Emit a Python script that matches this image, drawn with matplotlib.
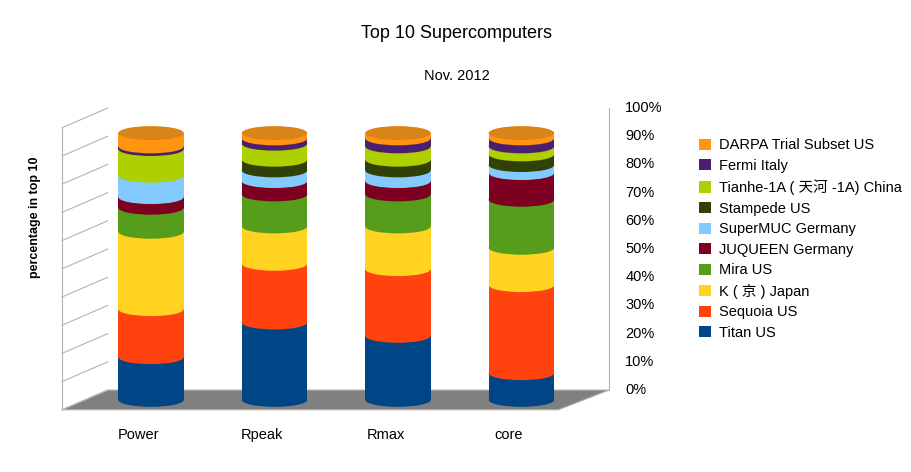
import matplotlib
matplotlib.use("Agg")
import matplotlib.pyplot as plt
from matplotlib.patches import Ellipse, Rectangle, Polygon, Patch
import matplotlib.colors as mc

plt.rcParams['font.family'] = ['Liberation Sans', 'Noto Sans CJK SC']

categories = ["Power", "Rpeak", "Rmax", "core"]
series = ["Titan US", "Sequoia US", "K ( 京 ) Japan", "Mira US", "JUQUEEN Germany",
          "SuperMUC Germany", "Stampede US", "Tianhe-1A ( 天河 -1A) China", "Fermi Italy",
          "DARPA Trial Subset US"]
colors = ["#004586", "#ff420e", "#ffd320", "#579d1c", "#7e0021",
          "#83caff", "#314004", "#aecf00", "#4b1f6f", "#ff950e"]
titan    = [16, 29, 24, 10]
sequoia  = [18, 22, 25, 33]
k_japan  = [29, 14, 16, 14]
mira     = [9, 12, 12, 18]
juqueen  = [4, 5, 5, 10]
supermuc = [8, 4, 4, 3]
stampede = [0, 4, 4, 4]
tianhe   = [10, 6, 5, 3]
fermi    = [1, 2, 3, 3]
darpa    = [5, 2, 2, 2]
values = [titan, sequoia, k_japan, mira, juqueen, supermuc, stampede, tianhe, fermi, darpa]

fig = plt.figure(figsize=(9.12, 4.72), dpi=100)
ax = fig.add_axes([0.0658, 0.0996, 0.603, 0.6886])
ax.set_xlim(-0.737, 3.717)
ax.set_ylim(-9.4, 112.4)
ax.axis('off')

# floor
ax.add_patch(Polygon([(-0.72, -3.7), (3.3, -3.7), (3.71, 3.7), (-0.35, 3.7)],
                     closed=True, facecolor="#808080", edgecolor="#b3b3b3", lw=0.8, zorder=0))
# walls
ax.plot([-0.72, -0.72], [-3.7, 101.9], color="#b3b3b3", lw=0.8, zorder=0)
ax.plot([3.71, 3.71], [3.7, 109.4], color="#b3b3b3", lw=0.8, zorder=0, clip_on=False)
for i in range(11):
    yb = 3.7 + i * 10.57
    ax.plot([-0.72, -0.35], [yb - 7.4, yb], color="#b3b3b3", lw=0.8, zorder=0)
    ax.text(3.84, yb, f"{i*10}%", ha="left", va="center", fontsize=10.5)

w = 0.53
eh = 5.2
for j, cat in enumerate(categories):
    base = 0
    total = sum(v[j] for v in values)
    for s, v in enumerate(values):
        h = v[j] * 100 / total
        if h <= 0:
            continue
        ax.add_patch(Ellipse((j, base), w, eh, facecolor=colors[s], edgecolor='none', zorder=2))
        ax.add_patch(Rectangle((j - w / 2, base), w, h, facecolor=colors[s], edgecolor='none', zorder=2))
        base += h
        top_color = colors[s]
    light = [min(1, c * 0.8 + 0.05) for c in mc.to_rgb(top_color)]
    ax.add_patch(Ellipse((j, base), w, eh, facecolor=light, edgecolor='none', zorder=3))
    ax.text(j - 0.1, -13, cat, ha="center", va="center", fontsize=10.5)

fig.text(0.501, 0.93, "Top 10 Supercomputers", ha="center", va="center", fontsize=13)
fig.text(0.501, 0.84, "Nov. 2012", ha="center", va="center", fontsize=10.5)
fig.text(0.038, 0.54, "percentage in top 10", rotation=90, ha="center", va="center",
         fontsize=9, fontweight="bold")

handles = [Patch(facecolor=c, edgecolor='none') for c in colors][::-1]
fig.legend(handles, series[::-1], loc="upper left", bbox_to_anchor=(0.752, 0.735),
           frameon=False, fontsize=10.5, labelspacing=0.45, handlelength=0.8,
           handleheight=0.8, handletextpad=0.6)

fig.savefig("out.png", dpi=100)
